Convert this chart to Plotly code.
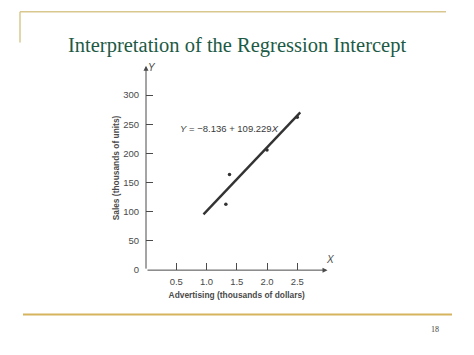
import plotly.graph_objects as go

W, H = 474, 355

# data
adv_x = [1.32, 1.38, 2.0, 2.5]          # advertising (thousands of dollars)
sales_y = [113, 164, 206, 262]           # sales (thousands of units)
intercept = -8.136
slope = 109.229
line_x = [0.95, 2.55]
line_y = [intercept + slope * v for v in line_x]
x_ticks = [0.5, 1.0, 1.5, 2.0, 2.5]
x_tick_labels = ["0.5", "1.0", "1.5", "2.0", "2.5"]
y_ticks = [0, 50, 100, 150, 200, 250, 300]
y_tick_labels = ["0", "50", "100", "150", "200", "250", "300"]

def px(x):
    return x / W

def py(y):
    return 1 - y / H

gray = "#4a4a4a"
fig = go.Figure()
fig.add_trace(go.Scatter(x=line_x, y=line_y, mode="lines",
                         line=dict(color="#333333", width=2.4), hoverinfo="skip"))
fig.add_trace(go.Scatter(x=adv_x, y=sales_y, mode="markers",
                         marker=dict(color="#333333", size=3.5), hoverinfo="skip"))

fig.update_layout(
    width=W, height=H, margin=dict(l=0, r=0, t=0, b=0),
    paper_bgcolor="white", plot_bgcolor="white", showlegend=False,
    xaxis=dict(domain=[px(146), px(327.5)], range=[0, 3.0],
               tickvals=x_ticks, ticktext=x_tick_labels,
               ticks="inside", ticklen=7, tickcolor=gray, tickwidth=1,
               ticklabelstandoff=4,
               showgrid=False, zeroline=False, showline=False,
               tickfont=dict(family="Liberation Sans", size=9.5, color=gray),
               title=dict(text="<b>Advertising (thousands of dollars)</b>", standoff=6,
                          font=dict(family="Liberation Sans", size=8.4, color=gray))),
    yaxis=dict(domain=[py(274), py(66.8)], range=[0, 350],
               tickvals=y_ticks, ticktext=y_tick_labels,
               ticks="inside", ticklen=7, tickcolor=gray, tickwidth=1,
               ticklabelstandoff=6,
               showgrid=False, zeroline=False, showline=False,
               tickfont=dict(family="Liberation Sans", size=9.5, color=gray),
               title=dict(text="<b>Sales (thousands of units)</b>", standoff=2,
                          font=dict(family="Liberation Sans", size=8.4, color=gray))),
)

# axes with arrowheads
fig.add_annotation(x=3.0, y=0, ax=0, ay=0, xref="x", yref="y", axref="x", ayref="y",
                   showarrow=True, arrowhead=2, arrowsize=1, arrowwidth=1, arrowcolor=gray, text="")
fig.add_annotation(x=0, y=350, ax=0, ay=0, xref="x", yref="y", axref="x", ayref="y",
                   showarrow=True, arrowhead=2, arrowsize=1, arrowwidth=1, arrowcolor=gray, text="")
fig.add_annotation(x=px(336), y=py(271), xref="paper", yref="paper", showarrow=False,
                   text="<i>X</i>", font=dict(family="Liberation Sans", size=10, color=gray))
fig.add_annotation(x=px(146), y=py(61), xref="paper", yref="paper", showarrow=False,
                   text="<i>Y</i>", font=dict(family="Liberation Sans", size=10, color=gray))
fig.add_annotation(x=px(229), y=py(130), xref="paper", yref="paper", showarrow=False,
                   text="<i>Y</i> = \u22128.136 + 109.229<i>X</i>",
                   font=dict(family="Liberation Sans", size=9.5, color="#3a3a3a"))

# slide title
fig.add_annotation(x=px(237), y=py(32), xref="paper", yref="paper", showarrow=False,
                   text="Interpretation of the Regression Intercept",
                   font=dict(family="Liberation Serif", size=20.5, color="#1d5a45"))
fig.add_annotation(x=px(441), y=py(341), xref="paper", yref="paper", showarrow=False,
                   text="18", font=dict(family="Liberation Serif", size=8, color="#444444"))

# slide decoration lines
fig.add_shape(type="line", xref="paper", yref="paper", x0=px(20), x1=px(446), y0=py(12), y1=py(12),
              line=dict(color="#d8c88f", width=1.5))
fig.add_shape(type="line", xref="paper", yref="paper", x0=px(20), x1=px(20), y0=py(12), y1=py(43),
              line=dict(color="#d8c88f", width=1.5))
fig.add_shape(type="line", xref="paper", yref="paper", x0=px(23), x1=px(452), y0=py(319), y1=py(319),
              line=dict(color="#d6b45e", width=1.8))

fig.write_html("out.html")
